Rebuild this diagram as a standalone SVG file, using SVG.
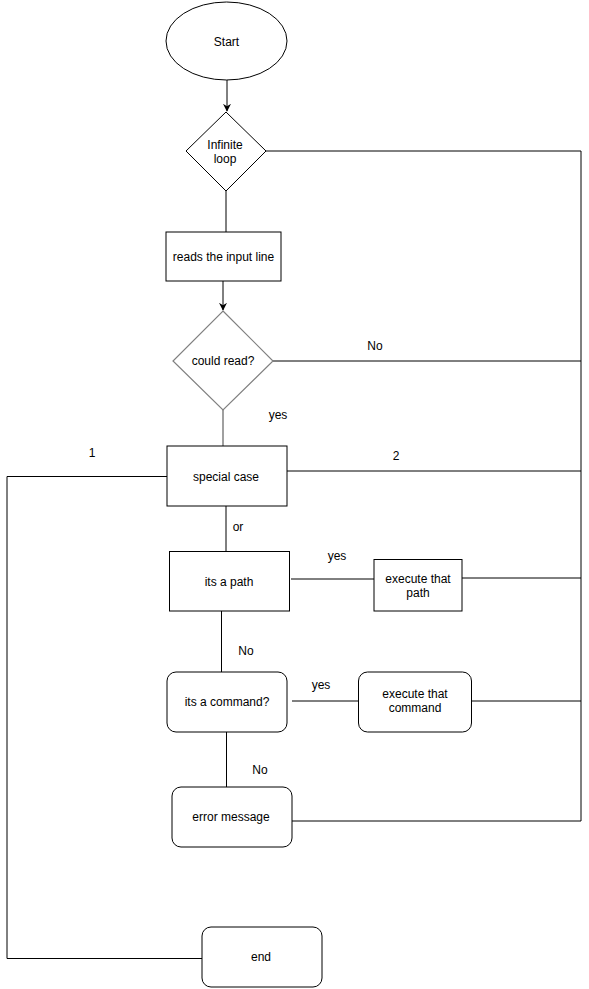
<svg xmlns="http://www.w3.org/2000/svg" width="589" height="989" viewBox="0 0 589 989">
<style>
.n{fill:#fff;stroke:#000;stroke-width:1}
.g{fill:#fff;stroke:#808080;stroke-width:1.2}
.e{fill:none;stroke:#000;stroke-width:1}
.eg{fill:none;stroke:#808080;stroke-width:1.5}
text{font-family:"Liberation Sans",Arial,sans-serif;font-size:12px;fill:#000;text-anchor:middle;dominant-baseline:central}
</style>
<defs>
<marker id="arr" viewBox="0 0 10 10" refX="9" refY="5" markerWidth="8" markerHeight="8" markerUnits="userSpaceOnUse" orient="auto">
<path d="M0,0 L10,5 L0,10 L3,5 Z" fill="#000"/>
</marker>
</defs>
<rect width="589" height="989" fill="#fff"/>
<g id="connectors">
<path class="e" d="M227,80 V111" marker-end="url(#arr)"/>
<path class="e" d="M266,151 H581 V821 H292"/>
<path class="e" d="M226,191 V232"/>
<path class="e" d="M223,281 V310" marker-end="url(#arr)"/>
<path class="e" d="M273,361 H581"/>
<path class="eg" d="M223,410 V446"/>
<path class="e" d="M167,476.5 H7 V958.5 H202"/>
<path class="e" d="M287,471 H581"/>
<path class="e" d="M226,506 V551"/>
<path class="e" d="M291,579 H374"/>
<path class="e" d="M462,578 H581"/>
<path class="e" d="M221.5,611 V672"/>
<path class="e" d="M292,701 H358"/>
<path class="e" d="M471,701 H581"/>
<path class="e" d="M226.5,732 V787"/>
<text x="375" y="346">No</text>
<text x="278" y="415">yes</text>
<text x="92" y="453">1</text>
<text x="396" y="456">2</text>
<text x="238" y="527">or</text>
<text x="337" y="556">yes</text>
<text x="246" y="651">No</text>
<text x="321" y="685">yes</text>
<text x="260" y="770">No</text>
</g>
<g id="start">
<ellipse class="n" cx="226.5" cy="41" rx="60.5" ry="39"/>
<text x="226.5" y="42">Start</text>
</g>
<g id="infinite-loop">
<polygon class="n" points="226,112 266,151 226,191 186,151"/>
<text x="225" y="145">Infinite</text>
<text x="225" y="159">loop</text>
</g>
<g id="reads-input">
<rect class="n" x="166" y="232" width="115" height="49"/>
<text x="223.5" y="257">reads the input line</text>
</g>
<g id="could-read">
<polygon class="g" points="223,311 273,361 223,410 173,361"/>
<text x="223" y="361">could read?</text>
</g>
<g id="special-case">
<rect class="n" x="167" y="446" width="120" height="60"/>
<text x="226" y="477">special case</text>
</g>
<g id="its-a-path">
<rect class="n" x="169.5" y="551.5" width="120" height="59.5"/>
<text x="229" y="582">its a path</text>
</g>
<g id="execute-path">
<rect class="n" x="374" y="559.5" width="88" height="51.5"/>
<text x="418" y="579">execute that</text>
<text x="418" y="593">path</text>
</g>
<g id="its-a-command">
<rect class="n" x="167" y="672" width="120" height="60" rx="9" ry="9"/>
<text x="227" y="702">its a command?</text>
</g>
<g id="execute-command">
<rect class="n" x="358.5" y="672" width="113" height="60" rx="9" ry="9"/>
<text x="415" y="694">execute that</text>
<text x="415" y="708">command</text>
</g>
<g id="error-message">
<rect class="n" x="172" y="787" width="120" height="60" rx="9" ry="9"/>
<text x="231" y="817">error message</text>
</g>
<g id="end">
<rect class="n" x="202" y="927" width="120" height="60" rx="9" ry="9"/>
<text x="261" y="957">end</text>
</g>
</svg>
